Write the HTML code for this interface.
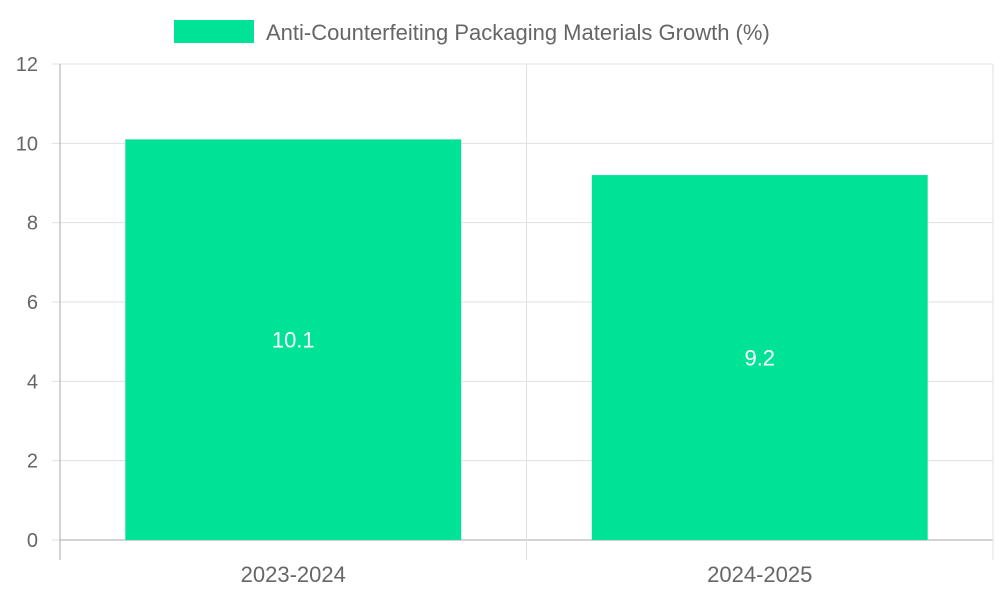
<!DOCTYPE html>
<html><head><meta charset="utf-8"><style>
html,body{margin:0;padding:0;background:#fff;}
svg{display:block;font-family:"Liberation Sans",sans-serif;}
</style></head><body>
<svg id="chart" width="1000" height="600"></svg>
<script>
const categories = ["2023-2024", "2024-2025"];
const values = [10.1, 9.2];
const yTicks = [0, 2, 4, 6, 8, 10, 12];
const seriesName = "Anti-Counterfeiting Packaging Materials Growth (%)";

const NS = "http://www.w3.org/2000/svg";
const svg = document.getElementById("chart");
const L = 60, R = 993, T = 64, B = 540, yMax = 12;
const y = v => B - (v / yMax) * (B - T);
const band = (R - L) / categories.length;
const x = i => L + band * i;
function mk(tag, attrs, parent) {
  const e = document.createElementNS(NS, tag);
  for (const k in attrs) e.setAttribute(k, attrs[k]);
  (parent || svg).appendChild(e);
  return e;
}
// legend
const lg = mk("g", {});


mk("rect", {x:174, y:20, width:80, height:23, fill:"#00e396"}, lg);
const lt = mk("text", {x:266, y:40, "font-size":22, fill:"#666"}, lg);
lt.textContent = seriesName;
// grid horizontal + y ticks
yTicks.forEach(t => {
  const g = mk("line", {x1:L, x2:R, y1:y(t), y2:y(t), stroke: t===0?"#aaa":"#e0e0e0", "stroke-width":1});
  
  
  mk("line", {x1:L-8, x2:L, y1:y(t), y2:y(t), stroke:"#e0e0e0"});
  const tx = mk("text", {x:L-22, y:y(t)+7, "font-size":20, fill:"#666", "text-anchor":"end"});
  
  
  tx.textContent = t;
});
// vertical grid
for (let i = 0; i <= categories.length; i++) {
  const gx = x(i);
  const v = mk("line", {x1:gx, x2:gx, y1:T, y2:B+20, stroke: i===0?"#aaa":"#e0e0e0"});
  
  
}
// bars
categories.forEach((c, i) => {
  const bw = band * 0.72;
  const bx = x(i) + (band - bw) / 2;
  const r = mk("rect", {x:bx, y:y(values[i]), width:bw, height:B - y(values[i]), fill:"#00e396"});
  
  
  const vl = mk("text", {x:bx+bw/2, y:(y(values[i])+B)/2+8, "font-size":22, fill:"#fff", "text-anchor":"middle"});
  
  
  vl.textContent = values[i];
  const cl = mk("text", {x:x(i)+band/2, y:582, "font-size":22, fill:"#666", "text-anchor":"middle"});
  
  
  cl.textContent = c;
});
</script>
</body></html>
